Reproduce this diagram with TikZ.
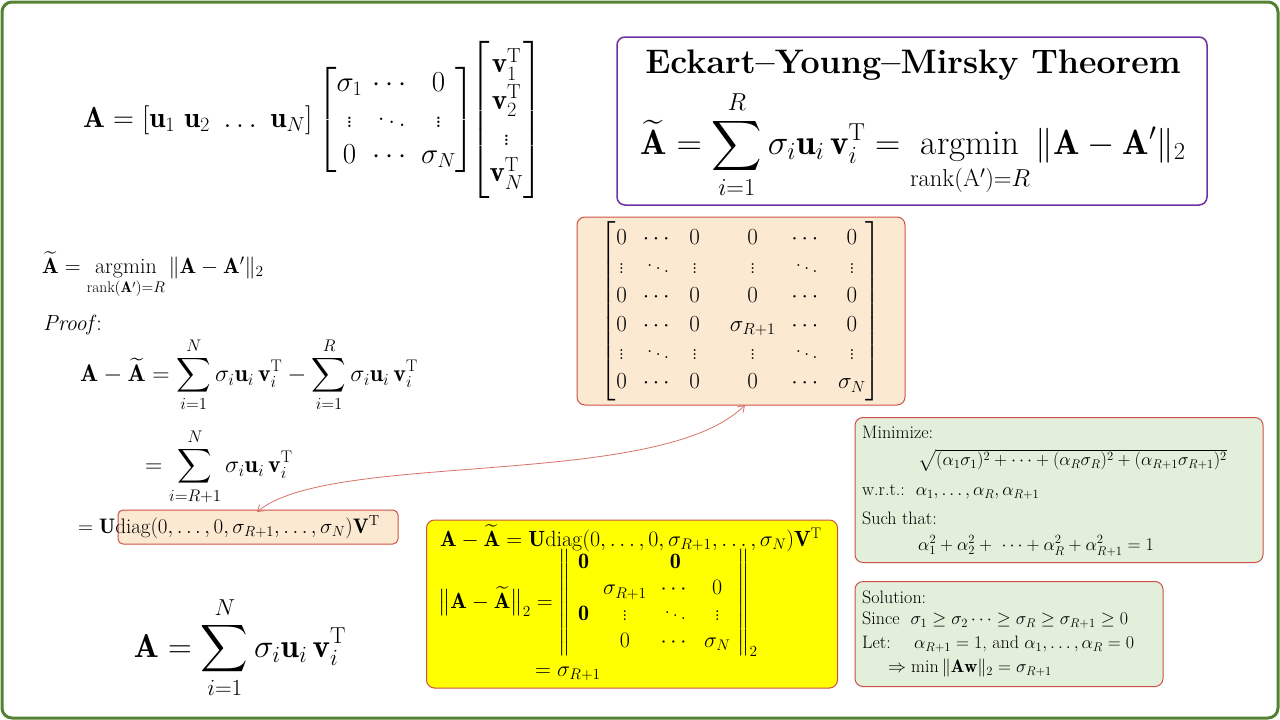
\RequirePackage{fix-cm}
\documentclass[tikz,border=0pt]{standalone}
\usepackage{amsmath,amssymb}
\usepackage{fontspec}
\usetikzlibrary{arrows.meta}
\definecolor{frameg}{RGB}{84,130,53}
\definecolor{boxred}{RGB}{205,80,70}
\definecolor{pur}{RGB}{112,48,160}
\definecolor{orfill}{RGB}{252,233,210}
\definecolor{grfill}{RGB}{226,239,218}
\definecolor{yel}{RGB}{255,255,0}
\newcommand{\fs}[1]{\fontsize{#1}{\dimexpr #1pt*5/4\relax}\selectfont}
\tikzset{
 rbox/.style={draw=boxred,rounded corners=8pt,line width=1pt},
 txt/.style={inner sep=0pt,anchor=west},
}
\begin{document}
\begin{tikzpicture}[x=1pt,y=-1pt]
\useasboundingbox (0,0) rectangle (1280,720);
\draw[frameg,line width=3pt,rounded corners=10pt,fill=white] (2,2) rectangle (1278,718);
% top-left
\node[inner sep=0pt] (eq1) at (313,120) {\fs{29}$\mathbf{A}=[\mathbf{u}_1\ \mathbf{u}_2\ \dots\ \mathbf{u}_N]\begin{bmatrix}\sigma_1&\cdots&0\\ \vdots&\ddots&\vdots\\ 0&\cdots&\sigma_N\end{bmatrix}\!\!\begin{bmatrix}\mathbf{v}_1^{\mathrm T}\\ \mathbf{v}_2^{\mathrm T}\\ \vdots\\ \mathbf{v}_N^{\mathrm T}\end{bmatrix}$};
% theorem
\draw[pur,line width=1.5pt,rounded corners=8pt] (617,37) rectangle (1207,205);
\node[inner sep=0pt] (th) at (913,65) {\fs{34}\bfseries Eckart--Young--Mirsky Theorem};
\node[inner sep=0pt] (theq) at (913,145) {\fs{35}$\widetilde{\mathbf{A}}=\displaystyle\sum_{i=1}^{R}\sigma_i\mathbf{u}_i\,\mathbf{v}_i^{\mathrm T}=\mathop{\mathrm{argmin}}_{\mathrm{rank}(\mathrm{A}')=R}\|\mathbf{A}-\mathbf{A}'\|_2$};
% orange matrix
\node[rbox,fill=orfill,minimum width=328pt,minimum height=188pt] (om) at (741,311) {};
\node[inner sep=0pt] (omat) at (741,311) {\fs{23}$\setlength{\arraycolsep}{8pt}\begin{bmatrix}0&\cdots&0&\ \ 0&\cdots&0\\ \vdots&\ddots&\vdots&\ \ \vdots&\ddots&\vdots\\ 0&\cdots&0&\ \ 0&\cdots&0\\ 0&\cdots&0&\ \ \sigma_{R+1}&\cdots&0\\ \vdots&\ddots&\vdots&\ \ \vdots&\ddots&\vdots\\ 0&\cdots&0&\ \ 0&\cdots&\sigma_N\end{bmatrix}$};
% left proof
\node[txt] (l1) at (42,275) {\fs{22}$\widetilde{\mathbf{A}}=\mathop{\mathrm{argmin}}\limits_{\mathrm{rank}(\mathbf{A}')=R}\|\mathbf{A}-\mathbf{A}'\|_2$};
\node[txt] (pf) at (43,325) {\fs{22}\itshape Proof\/\upshape:};
\node[txt] (l2) at (80,375) {\fs{24}$\mathbf{A}-\widetilde{\mathbf{A}}=\displaystyle\sum_{i=1}^{N}\sigma_i\mathbf{u}_i\,\mathbf{v}_i^{\mathrm T}-\sum_{i=1}^{R}\sigma_i\mathbf{u}_i\,\mathbf{v}_i^{\mathrm T}$};
\node[txt] (l3) at (145,467) {\fs{24}$=\displaystyle\sum_{i=R+1}^{N}\sigma_i\mathbf{u}_i\,\mathbf{v}_i^{\mathrm T}$};
\node[rbox,fill=orfill,rounded corners=5pt,minimum width=280pt,minimum height=34pt] (db) at (258,527) {};
\node[txt] (l4) at (78,527) {\fs{21}$=\mathbf{U}\mathrm{diag}(0,\dots,0,\sigma_{R+1},\dots,\sigma_N)\mathbf{V}^{\mathrm T}$};
\node[inner sep=0pt] (big) at (240,648) {\fs{33}$\mathbf{A}=\displaystyle\sum_{i=1}^{N}\sigma_i\mathbf{u}_i\,\mathbf{v}_i^{\mathrm T}$};
% arrow
\coordinate (a1) at (745,405);
\coordinate (a2) at (257,512);
\draw[boxred!80,line width=0.8pt,{Straight Barb[length=6pt,width=8pt]}-{Straight Barb[length=6pt,width=8pt]}] (a2) .. controls (330,450) and (660,490) .. (a1);
% yellow
\node[rbox,fill=yel,minimum width=411pt,minimum height=168pt] (yb) at (632,604) {};
\node[txt] (y1) at (440,538) {\fs{22}$\mathbf{A}-\widetilde{\mathbf{A}}=\mathbf{U}\mathrm{diag}(0,\dots,0,\sigma_{R+1},\dots,\sigma_N)\mathbf{V}^{\mathrm T}$};
\node[txt] (y2) at (438,603) {\fs{22}$\big\|\mathbf{A}-\widetilde{\mathbf{A}}\big\|_2=\left\|\setlength{\arraycolsep}{7pt}\renewcommand{\arraystretch}{0.95}\begin{array}{cccc}\mathbf{0}&&\mathbf{0}&\\ &\sigma_{R+1}&\cdots&0\\ \mathbf{0}&\vdots&\ddots&\vdots\\ &0&\cdots&\sigma_N\end{array}\right\|_2$};
\node[txt] (y3) at (535,674) {\fs{22}$=\sigma_{R+1}$};
% green 1
\node[rbox,fill=grfill,minimum width=408pt,minimum height=145pt] (g1) at (1059,490) {};
\node[txt] (m1) at (862,432) {\fs{18}Minimize:};
\node[txt] (m2) at (918,460) {\fs{18}$\sqrt{(\alpha_1\sigma_1)^2+\cdots+(\alpha_R\sigma_R)^2+(\alpha_{R+1}\sigma_{R+1})^2}$};
\node[txt] (m3) at (862,492) {\fs{18}w.r.t.:\ \ $\alpha_1,\dots,\alpha_R,\alpha_{R+1}$};
\node[txt] (m4) at (862,518) {\fs{18}Such that:};
\node[txt] (m5) at (918,546) {\fs{18}$\alpha_1^2+\alpha_2^2+\ \dots+\alpha_R^2+\alpha_{R+1}^2=1$};
% green 2
\node[rbox,fill=grfill,minimum width=308pt,minimum height=105pt] (g2) at (1009,634) {};
\node[txt] (s1) at (862,597) {\fs{18}Solution:};
\node[txt] (s2) at (862,620) {\fs{18}Since\ \ $\sigma_1\ge\sigma_2\dots\ge\sigma_R\ge\sigma_{R+1}\ge0$};
\node[txt] (s3) at (862,644) {\fs{18}Let:\quad\ $\alpha_{R+1}=1$, and $\alpha_1,\dots,\alpha_R=0$};
\node[txt] (s4) at (888,668) {\fs{18}$\Rightarrow\min\|\mathbf{A}\mathbf{w}\|_2=\sigma_{R+1}$};
\end{tikzpicture}
\end{document}
